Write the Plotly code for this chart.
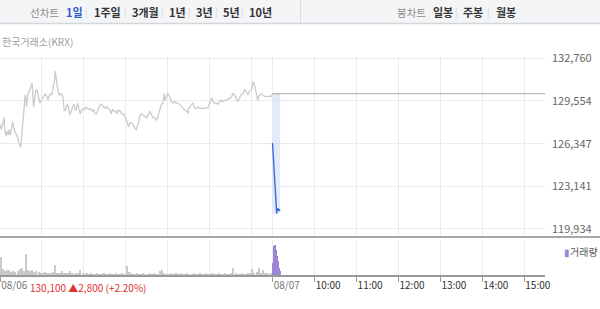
import plotly.graph_objects as go

# ---------------- data ----------------
prev_close = 130100
change_text = "130,100 ▲2,800 (+2.20%)"

# previous day (08/06), minutes since 09:00
prev_time = [0, 2, 6, 7, 9, 10, 12, 13, 15, 17, 18, 20, 21, 24, 26, 29, 30, 32, 34, 36, 37, 38, 40, 42, 44, 46, 48, 50,
             51, 53, 55, 57, 59, 61, 63, 65, 67, 69, 70, 72, 74, 76, 78, 79, 81, 83, 85, 87, 89, 90, 92, 94, 96, 98,
             100, 102, 104, 106, 108, 110, 111, 113, 115, 117, 119, 121, 123, 125, 127, 129, 130, 132, 134, 136, 138,
             140, 142, 144, 146, 148, 150, 151, 153, 155, 157, 159, 161, 163, 165, 167, 169, 170, 172, 174, 176, 178,
             180, 182, 184, 186, 188, 190, 193, 195, 198, 200, 202, 205, 207, 210, 212, 214, 217, 219, 221, 224, 226,
             229, 231, 233, 235, 236, 238, 240, 243, 245, 248, 250, 252, 255, 257, 260, 262, 264, 267, 269, 270, 272,
             274, 276, 279, 281, 283, 286, 288, 290, 293, 295, 298, 300, 301, 303, 305, 307, 310, 312, 314, 317, 319,
             321, 324, 326, 329, 331, 333, 336, 338, 340, 343, 345, 348, 350, 352, 355, 357, 360, 362, 363, 365, 367,
             369, 370, 372, 374, 376, 379, 381, 383, 386, 388, 390]
prev_price = [127800, 127400, 128300, 127300, 126900, 127300, 127000, 127400, 127000, 127900, 128000, 127500, 127300,
              127000, 126600, 126100, 126200, 127600, 128900, 130000, 129800, 129100, 130100, 130300, 130600, 130900,
              129100, 129900, 130300, 130400, 130000, 129400, 129600, 129800, 130000, 130100, 129900, 129600, 129900,
              130100, 130000, 130600, 131100, 131800, 130900, 130300, 130000, 130100, 130000, 129900, 128800, 128900,
              129300, 129100, 128500, 128900, 129100, 129300, 128800, 129100, 129400, 128900, 128600, 128900, 129000,
              128900, 129100, 129000, 128900, 129000, 128900, 128800, 128900, 128600, 128600, 128900, 129100, 129300,
              129300, 129100, 129100, 129000, 129100, 129000, 128900, 128600, 128900, 128800, 128800, 128600, 128900,
              128800, 128800, 128600, 128600, 128500, 128300, 128000, 127600, 127900, 127900, 127800, 127500, 127400,
              127900, 128400, 128600, 128500, 128400, 128300, 128500, 128800, 128500, 128300, 128300, 128100, 128400,
              128900, 129300, 129400, 130100, 129600, 129900, 130100, 129900, 129500, 129400, 129500, 129400, 129400,
              129300, 129100, 129000, 128900, 128800, 128600, 129000, 129100, 129300, 129400, 129000, 129000, 129100,
              129000, 129000, 129000, 129000, 129000, 129100, 129400, 129600, 129800, 129500, 129400, 129400, 129300,
              129500, 129600, 129500, 129600, 129600, 129700, 129800, 129800, 130100, 130000, 129800, 129500, 129800,
              130000, 130100, 130400, 130300, 130000, 130300, 130400, 130900, 131000, 130600, 130100, 129600, 129900,
              130000, 130100, 130000, 129900, 129900, 129900, 129900, 129900, 130100]

# today (08/07), minutes since 08/06 09:00 (today 09:00 = 390)
today_time = [390, 396, 397, 398, 399, 401]
today_price = [126400, 121100, 121500, 121300, 121400, 121300]

# volume, previous day in 3-minute bins (shares)
prev_vol_bin_minutes = 3
prev_vol = [180000, 60000, 40000, 50000, 50000, 30000, 40000, 30000, 40000, 60000,
            70000, 40000, 210000, 50000, 40000, 50000, 30000, 40000, 30000, 20000,
            20000, 30000, 20000, 20000, 20000, 30000, 100000, 20000, 20000, 40000,
            20000, 20000, 20000, 40000, 20000, 10000, 20000, 20000, 50000, 20000,
            10000, 20000, 10000, 20000, 10000, 10000, 20000, 10000, 10000, 20000,
            10000, 10000, 20000, 10000, 10000, 20000, 10000, 10000, 20000, 10000,
            90000, 30000, 20000, 10000, 10000, 20000, 10000, 10000, 20000, 10000,
            10000, 20000, 10000, 20000, 10000, 10000, 40000, 50000, 20000, 10000,
            10000, 20000, 10000, 20000, 20000, 10000, 20000, 10000, 10000, 20000,
            10000, 10000, 20000, 10000, 10000, 20000, 10000, 10000, 20000, 10000,
            10000, 20000, 10000, 10000, 20000, 10000, 10000, 20000, 10000, 10000,
            20000, 70000, 20000, 10000, 10000, 20000, 10000, 10000, 20000, 20000,
            60000, 20000, 30000, 70000, 20000, 50000, 20000, 20000, 10000, 20000]
# today volume per minute from 390
today_vol_time = [390, 391, 392, 393, 394, 395, 396, 397, 398, 399, 400, 401]
today_vol = [120000, 240000, 290000, 300000, 290000, 250000, 190000, 140000, 100000, 70000, 40000, 20000]

# axis ticks
y_ticks = [119934, 123141, 126347, 129554, 132760]
x_tick_vals = [0, 390, 450, 510, 570, 630, 690, 750]
x_tick_text = ["<span style='color:#777'>08/06</span>", "<span style='color:#777'>08/07</span>",
               "10:00", "11:00", "12:00", "13:00", "14:00", "15:00"]
prev_hour_grid = [60, 120, 180, 240, 300, 360]

# ---------------- layout helpers ----------------
W, H = 600, 309
ML, MR, MT, MB = 0, 55, 57, 34
PW = W - ML - MR
PH = H - MT - MB


def px(x):
    return (x - ML) / PW


def py(y):
    return (H - MB - y) / PH


FONT = "Noto Sans CJK KR, Noto Sans, sans-serif"
price_dom = [py(237), 1.0]
vol_dom = [0.0, py(240)]

fig = go.Figure()

# fill band for today
fig.add_trace(go.Scatter(x=[today_time[0], today_time[-1]], y=[min(today_price)] * 2, mode="lines",
                         line=dict(width=0), hoverinfo="skip", showlegend=False, xaxis="x", yaxis="y"))
fig.add_trace(go.Scatter(x=[today_time[0], today_time[-1]], y=[prev_close] * 2, mode="lines",
                         line=dict(width=0), fill="tonexty", fillcolor="rgba(205,222,246,0.6)",
                         hoverinfo="skip", showlegend=False, xaxis="x", yaxis="y"))
# previous day line
fig.add_trace(go.Scatter(x=prev_time, y=prev_price, mode="lines", line=dict(color="#cbcbcb", width=1.3),
                         showlegend=False, xaxis="x", yaxis="y"))
# previous close reference line
fig.add_trace(go.Scatter(x=[today_time[0], 780], y=[prev_close, prev_close], mode="lines",
                         line=dict(color="#a8a8a8", width=1), showlegend=False, xaxis="x", yaxis="y"))
# today line
fig.add_trace(go.Scatter(x=today_time, y=today_price, mode="lines", line=dict(color="#3a6bd4", width=1.4),
                         showlegend=False, xaxis="x", yaxis="y"))

# volume bars
prev_vol_x = [i * prev_vol_bin_minutes + prev_vol_bin_minutes / 2 for i in range(len(prev_vol))]
fig.add_trace(go.Bar(x=prev_vol_x, y=prev_vol, width=2.2, marker=dict(color="#c9c9c9", line=dict(width=0)),
                     showlegend=False, xaxis="x2", yaxis="y2"))
fig.add_trace(go.Bar(x=[t + 0.5 for t in today_vol_time], y=today_vol, width=1.0,
                     marker=dict(color="#9a86d2", line=dict(width=0)),
                     showlegend=False, xaxis="x2", yaxis="y2"))

grid = "#ececec"
fig.update_layout(
    width=W, height=H,
    margin=dict(l=ML, r=MR, t=MT, b=MB),
    paper_bgcolor="white", plot_bgcolor="white",
    font=dict(family=FONT, size=11, color="#555"),
    bargap=0,
    xaxis=dict(domain=[0, 1], range=[0, 780], tickmode="array", tickvals=x_tick_vals, showticklabels=False,
               showgrid=True, gridcolor=grid, gridwidth=1, zeroline=False, ticks="",
               minor=dict(tickmode="array", tickvals=prev_hour_grid, showgrid=True, gridcolor=grid, ticks=""),
               anchor="y", matches="x2"),
    yaxis=dict(domain=price_dom, range=[119330, 132860], side="right", tickmode="array", tickvals=y_ticks,
               tickformat=",", showgrid=True, gridcolor=grid, zeroline=False, ticks="",
               tickfont=dict(size=11, color="#666"), ticklabelstandoff=6, anchor="x"),
    xaxis2=dict(domain=[0, 1], range=[0, 780], tickmode="array", tickvals=x_tick_vals, ticktext=x_tick_text,
                ticklabelposition="outside right", showgrid=True, gridcolor=grid,
                zeroline=False,
                minor=dict(tickmode="array", tickvals=prev_hour_grid, showgrid=True, gridcolor=grid, ticks=""),
                ticks="outside", ticklen=5, tickcolor="#999", showline=True, linecolor="#999", linewidth=1.5,
                tickfont=dict(size=10, color="#333"), anchor="y2"),
    yaxis2=dict(domain=vol_dom, range=[0, 350000], showticklabels=False, showgrid=False, zeroline=False,
                ticks="", anchor="x2", side="right"),
)

shapes = [
    # top toolbar background
    dict(type="rect", xref="paper", yref="paper", x0=px(0), x1=px(600), y0=py(23), y1=py(0),
         fillcolor="#f4f5f7", line=dict(width=0), layer="below"),
    dict(type="line", xref="paper", yref="paper", x0=px(0), x1=px(600), y0=py(23.5), y1=py(23.5),
         line=dict(color="#d4d6da", width=1.5)),
    dict(type="line", xref="paper", yref="paper", x0=px(300.5), x1=px(300.5), y0=py(23), y1=py(0),
         line=dict(color="#dcdde0", width=1)),
    # separator between price and volume panels
    dict(type="line", xref="paper", yref="paper", x0=px(0), x1=px(600), y0=py(237), y1=py(237),
         line=dict(color="#a6a6a6", width=2)),
]
fig.update_layout(shapes=shapes)

ann = []


def text(x, y, s, color="#333", size=12, bold=False, anchor="left"):
    if bold:
        s = "<b>" + s + "</b>"
    ann.append(dict(xref="paper", yref="paper", x=px(x), y=py(y), text=s, showarrow=False,
                    xanchor=anchor, yanchor="middle", font=dict(family=FONT, size=size, color=color)))


# toolbar left
text(28, 12, "선차트", "#8c8c8c", 10.5)
text(64, 12, "1일", "#2f5bd0", 11, True)
items = [("1주일", 92), ("3개월", 130), ("1년", 167), ("3년", 194), ("5년", 221), ("10년", 247)]
seps = [86, 125, 162, 189, 216, 242]
for (s, x), sx in zip(items, seps):
    text(sx, 12, "|", "#d0d0d0", 9, anchor="center")
    text(x, 12, s, "#333", 11, True)
# toolbar right
text(395, 12, "봉차트", "#8c8c8c", 10.5)
text(431, 12, "일봉", "#333", 11, True)
text(456, 12, "|", "#d0d0d0", 9, anchor="center")
text(461, 12, "주봉", "#333", 11, True)
text(488, 12, "|", "#d0d0d0", 9, anchor="center")
text(494, 12, "월봉", "#333", 11, True)

text(0, 41, "한국거래소(KRX)", "#a0a0a0", 10)
text(562, 251, "<span style='color:#9a86d2'>▮</span>거래량", "#555", 10)
text(28, 287, change_text, "#e0322e", 10)

fig.update_layout(annotations=ann)

fig.write_html("out.html")
